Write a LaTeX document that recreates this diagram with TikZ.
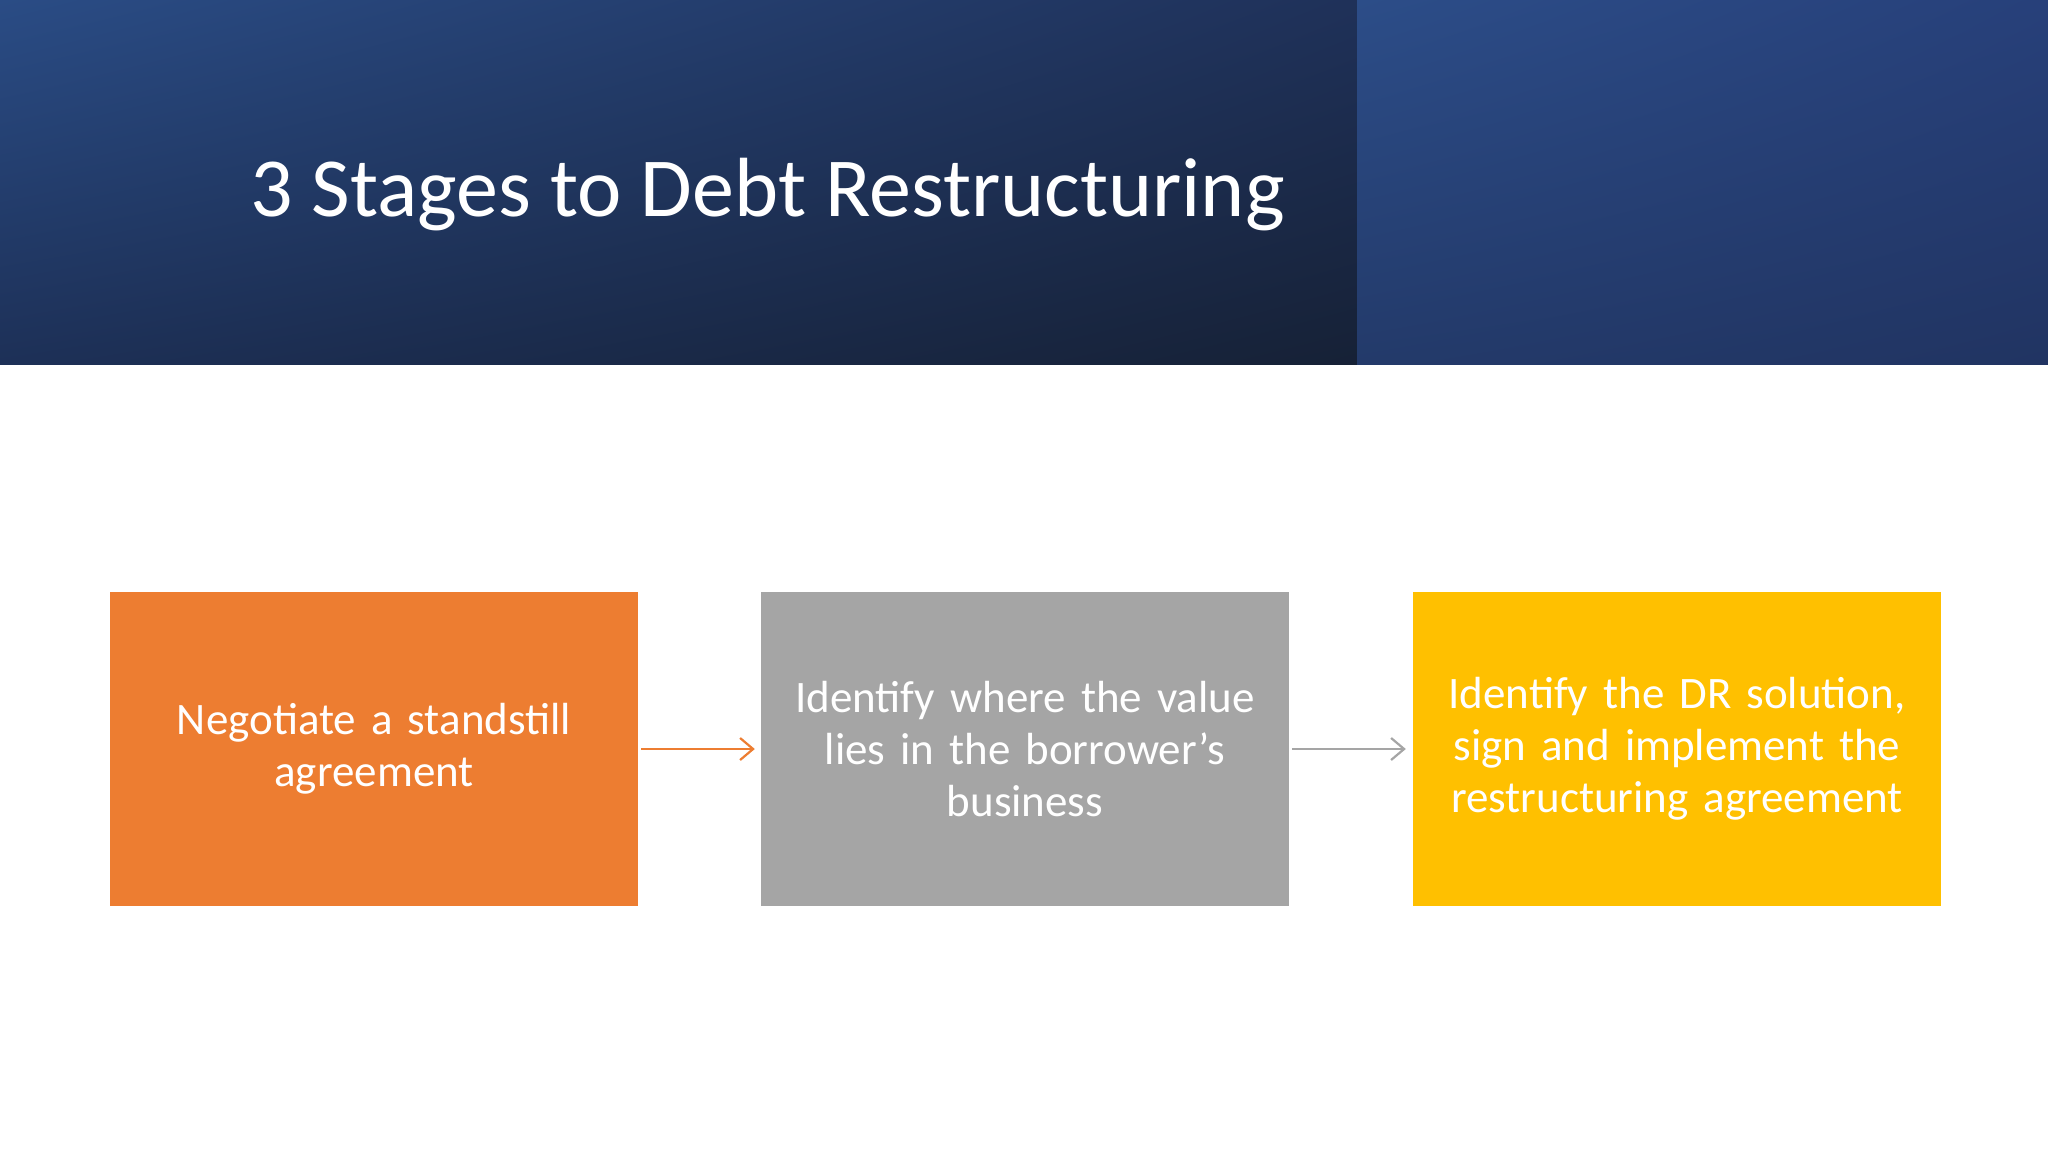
\documentclass[tikz,border=0pt]{standalone}
\usepackage{fontspec}
\setmainfont{Carlito}
\usetikzlibrary{arrows.meta,shadings}
\definecolor{orangeb}{HTML}{ED7D31}
\definecolor{greyb}{HTML}{A5A5A5}
\definecolor{goldb}{HTML}{FFC000}
\definecolor{navyA}{HTML}{2A4C85}
\definecolor{navyB}{HTML}{1F3159}
\definecolor{navyC}{HTML}{1D3057}
\definecolor{navyD}{HTML}{162136}
\definecolor{blueA}{HTML}{2C4D88}
\definecolor{blueB}{HTML}{27407A}
\definecolor{blueC}{HTML}{233A6A}
\definecolor{blueD}{HTML}{213462}
\tikzset{
  stagebox/.style={minimum width=528pt, minimum height=314pt, inner sep=0pt, align=center, text=white, font=\fontsize{45}{52}\selectfont, text width=510pt},
  stagearrow/.style={line width=2.2pt, -{Straight Barb[length=13pt,width=22pt,line width=2.2pt]}}
}
\begin{document}
\begin{tikzpicture}[x=1pt,y=-1pt]
\useasboundingbox (0,0) rectangle (2048,1152);
\fill[white] (0,0) rectangle (2048,1152);
\shade[upper left=navyA, upper right=navyB, lower left=navyC, lower right=navyD] (0,0) rectangle (1357,364);
\shade[upper left=blueA, upper right=blueB, lower left=blueC, lower right=blueD] (1357,0) rectangle (2048,364);
\node[anchor=base west, text=white, font=\fontsize{84}{100}\selectfont, inner sep=0pt] (title) at (250,216) {3 Stages to Debt Restructuring};
\node[stagebox, fill=orangeb] (s1) at (374,749) {Negotiate a standstill\\agreement};
\node[stagebox, fill=greyb] (s2) at (1025,749) {Identify where the value\\lies in the borrower’s\\business};
\node[stagebox, fill=goldb] (s3) at (1677,749) {Identify the DR solution,\\sign and implement the\\restructuring agreement};
\draw[stagearrow, draw=orangeb] ([xshift=3pt]s1.east) -- ([xshift=-6pt]s2.west);
\draw[stagearrow, draw=greyb] ([xshift=3pt]s2.east) -- ([xshift=-7pt]s3.west);
\end{tikzpicture}
\end{document}
